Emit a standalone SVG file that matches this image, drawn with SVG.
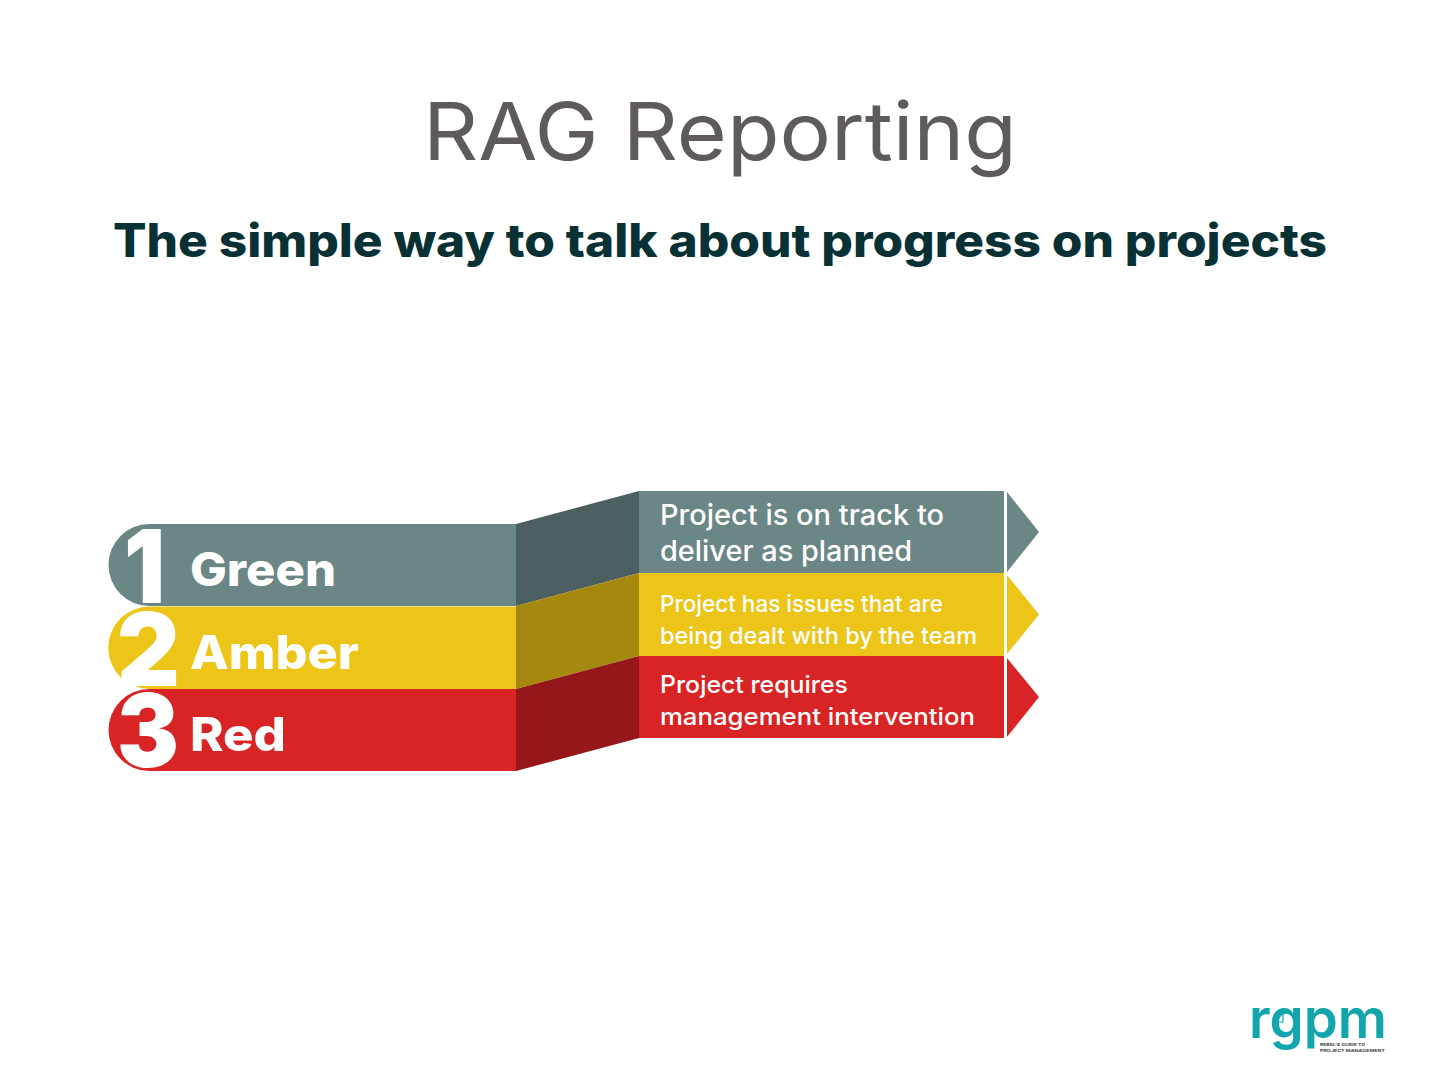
<svg xmlns="http://www.w3.org/2000/svg" width="1440" height="1080" viewBox="0 0 1440 1080">
<style>
text{font-family:Inter,"Noto Sans","Liberation Sans",sans-serif}
.n{fill:#fff;font-weight:900;font-size:102px}
.l{fill:#fff;font-weight:800;font-size:46px}
.d{fill:#fff;font-weight:500}
.g{fill:#6a8685}.y{fill:#ecc518}.r{fill:#d92425}
.gd{fill:#4b5f60}.yd{fill:#a5890f}.rd{fill:#96171a}
.t{fill:#12a5ac}
</style>
<rect width="1440" height="1080" fill="#fff"/>
<g id="title">
<text x="720" y="160" text-anchor="middle" font-size="80" fill="#5f5a5b" textLength="594" lengthAdjust="spacingAndGlyphs">RAG Reporting</text>
<text x="720" y="257" text-anchor="middle" font-size="46" font-weight="800" fill="#073135" textLength="1214" lengthAdjust="spacingAndGlyphs">The simple way to talk about progress on projects</text>
</g>
<g id="connectors">
<polygon class="gd" points="516,524 639,491 639,573 516,606"/>
<polygon class="yd" points="516,606 639,573 639,656 516,689"/>
<polygon class="rd" points="516,689 639,656 639,738 516,771"/>
</g>
<g id="node-green">
<path class="g" d="M516,524H149.500A41,41 0 0 0 149.500,606H516Z"/>
<text class="n" x="124" y="603" textLength="41" lengthAdjust="spacingAndGlyphs">1</text>
<text class="l" x="190" y="586" textLength="146" lengthAdjust="spacingAndGlyphs">Green</text>
<rect class="g" x="639" y="491" width="365" height="82"/>
<polygon class="g" points="1007,492 1039,532 1007,572"/>
<text class="d" x="660" y="525" font-size="28" textLength="284" lengthAdjust="spacingAndGlyphs">Project is on track to</text>
<text class="d" x="660" y="561" font-size="28" textLength="252" lengthAdjust="spacingAndGlyphs">deliver as planned</text>
</g>
<g id="node-amber">
<path class="y" d="M516,606.500H149.500A41,41 0 0 0 149.500,689H516Z"/>
<text class="n" x="117" y="686" textLength="63" lengthAdjust="spacingAndGlyphs">2</text>
<text class="l" x="190" y="669" textLength="169" lengthAdjust="spacingAndGlyphs">Amber</text>
<rect class="y" x="639" y="573" width="365" height="83"/>
<polygon class="y" points="1007,575 1039,614.500 1007,654"/>
<text class="d" x="660" y="612" font-size="23" textLength="283" lengthAdjust="spacingAndGlyphs">Project has issues that are</text>
<text class="d" x="660" y="644" font-size="23" textLength="317" lengthAdjust="spacingAndGlyphs">being dealt with by the team</text>
</g>
<g id="node-red">
<path class="r" d="M516,689H149.500A41,41 0 0 0 149.500,771H516Z"/>
<text class="n" x="117" y="767" textLength="62" lengthAdjust="spacingAndGlyphs">3</text>
<text class="l" x="190" y="751" textLength="96" lengthAdjust="spacingAndGlyphs">Red</text>
<rect class="r" x="639" y="656" width="365" height="82"/>
<polygon class="r" points="1007,658 1039,697 1007,737"/>
<text class="d" x="660" y="693" font-size="24" textLength="188" lengthAdjust="spacingAndGlyphs">Project requires</text>
<text class="d" x="660" y="725" font-size="24" textLength="315" lengthAdjust="spacingAndGlyphs">management intervention</text>
</g>
<g id="logo">
<text class="t" x="1249" y="1038" font-size="54" font-weight="600" textLength="138" lengthAdjust="spacingAndGlyphs">rgpm</text>
<path d="M1283,1012V1022H1276" fill="none" stroke="#12a5ac" stroke-width="1.200"/>
<text x="1320" y="1045.500" font-size="4" font-weight="700" fill="#444" textLength="45" lengthAdjust="spacingAndGlyphs">REBEL'S GUIDE TO</text>
<text x="1320" y="1051.500" font-size="4" font-weight="700" fill="#444" textLength="65" lengthAdjust="spacingAndGlyphs">PROJECT MANAGEMENT</text>
</g>
</svg>
